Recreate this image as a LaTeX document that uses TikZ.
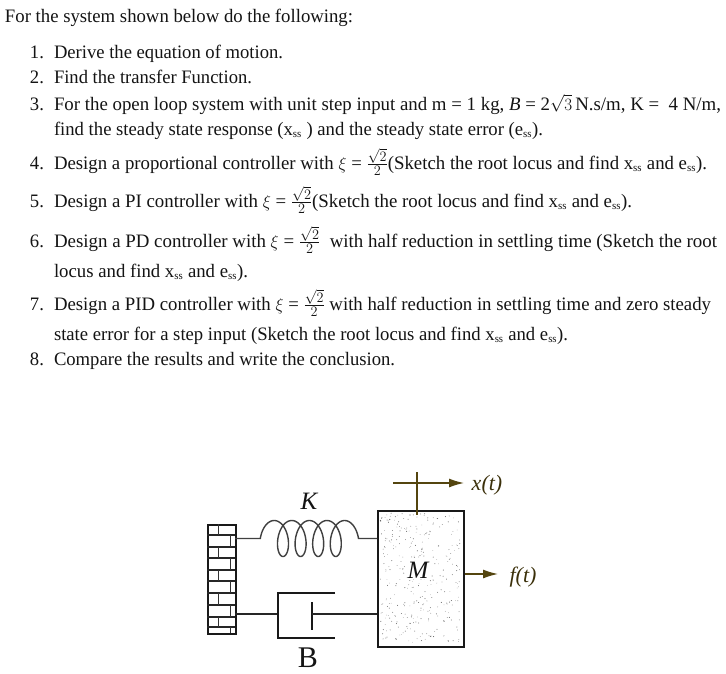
\documentclass[tikz,border=0pt]{standalone}
\usepackage{graphicx}
\usepackage{amsmath}
\usepackage{fontspec}
\setmainfont{Liberation Serif}
\usetikzlibrary{arrows.meta}
\definecolor{ink}{HTML}{141414}
\definecolor{olive}{HTML}{54450F}
\definecolor{coil}{HTML}{404040}
\newcommand{\sbs}[1]{\textsubscript{\fontsize{11}{11}\selectfont #1}}
\newcommand{\xifrac}{$\xi$ = \smash{$\frac{\sqrt{2}}{2}$}}
\newcommand{\putline}[5]{\node[txt] (#1) at (#2,#3) {\resizebox{#4pt}{\height}{\strut #5}};}
\tikzset{
  txt/.style={anchor=base west,inner sep=0pt,outer sep=0pt,text=ink,font=\fontsize{19}{20}\selectfont},
  wire/.style={draw=black!85,line width=1.2pt},
  heavy/.style={draw=black!90,line width=1.6pt},
  movebar/.style={draw=olive,line width=1.3pt},
  movearrow/.style={draw=olive,line width=1.3pt,-{Latex[length=15pt,width=9pt,fill=olive]}},
  lab/.style={inner sep=0pt,outer sep=0pt,anchor=base,text=ink},
}
\begin{document}
\begin{tikzpicture}[x=1pt,y=-1pt]
\useasboundingbox (0,0) rectangle (726,673);
\fill[white] (0,0) rectangle (726,673);
% text
\putline{t0}{5}{22}{348}{For the system shown below do the following:}
\putline{n1}{30}{58}{14}{1.}
\putline{t1}{54}{58}{229}{Derive the equation of motion.}
\putline{n2}{30}{83}{14}{2.}
\putline{t2}{54}{83}{198}{Find the transfer Function.}
\putline{n3}{30}{110}{14}{3.}
\putline{t3}{54}{110}{667}{For the open loop system with unit step input and m = 1 kg, \textit{B} = 2\smash{$\sqrt{3}$}\,N.s/m, K =\ \ 4 N/m,}
\putline{t3b}{54}{135}{489}{find the steady state response (x\sbs{ss} ) and the steady state error (e\sbs{ss}).}
\putline{n4}{30}{169}{14}{4.}
\putline{t4}{54}{169}{653}{Design a proportional controller with \xifrac(Sketch the root locus and find x\sbs{ss} and e\sbs{ss}).}
\putline{n5}{30}{207}{14}{5.}
\putline{t5}{54}{207}{578}{Design a PI controller with \xifrac(Sketch the root locus and find x\sbs{ss} and e\sbs{ss}).}
\putline{n6}{30}{247}{14}{6.}
\putline{t6}{54}{247}{663}{Design a PD controller with \xifrac\ \ with half reduction in settling time (Sketch the root}
\putline{t6b}{54}{277}{194}{locus and find x\sbs{ss} and e\sbs{ss}).}
\putline{n7}{30}{310}{14}{7.}
\putline{t7}{54}{310}{657}{Design a PID controller with \xifrac\ with half reduction in settling time and zero steady}
\putline{t7b}{54}{340}{514}{state error for a step input (Sketch the root locus and find x\sbs{ss} and e\sbs{ss}).}
\putline{n8}{30}{365}{14}{8.}
\putline{t8}{54}{365}{341}{Compare the results and write the conclusion.}
% mass
\node[draw=black!90,line width=1.7pt,fill=white,minimum width=86pt,minimum height=136pt,inner sep=0pt,anchor=north west] (mass) at (377,510) {};
\pgfmathsetseed{42}
\foreach \i in {1,...,340}{
  \pgfmathsetmacro{\dx}{380+rnd*80}
  \pgfmathsetmacro{\dy}{513+rnd*130}
  \pgfmathsetmacro{\dr}{0.25+0.3*rnd}
  \fill[black!60] (\dx,\dy) circle (\dr pt);
}
\node[lab,font=\fontsize{25}{27}\selectfont\itshape,fill=white,inner sep=1pt] (mlab) at (418,578) {M};
% wall
\node[draw=black!90,line width=1.5pt,minimum width=28pt,minimum height=109pt,inner sep=0pt,anchor=north west] (wall) at (207,524) {};
\foreach \yy in {535,547,558,570,581,593,605,617,627}{
  \draw[black!85,line width=1.1pt] (207,\yy) -- (235,\yy);
}
\foreach \ya/\yb in {524/535,547/558,570/581,593/605,617/627}{
  \draw[black!80,line width=1pt] (218,\ya) -- (218,\yb);
}
\foreach \ya/\yb in {535/547,558/570,581/593,605/617,627/633}{
  \draw[black!80,line width=1pt] (230,\ya) -- (230,\yb);
}
% spring
\coordinate (sL) at (235,538.5);
\coordinate (sR) at (377,538.5);
\draw[coil,line width=1.4pt] (sL) -- (260.3,538.5) -- plot[smooth,samples=260,domain=-90:1530,variable=\t] ({274.2+0.04887*\t+9.5*sin(\t)},{538.5-18*cos(\t)}) -- (sR);
\node[lab,font=\fontsize{25}{27}\selectfont\itshape] (klab) at (309,509) {K};
% damper
\coordinate (dL) at (235,614);
\coordinate (dC) at (278,614);
\coordinate (dP) at (312,614);
\coordinate (dR) at (377,614);
\coordinate (cT) at (335,593);
\coordinate (cB) at (335,638);
\coordinate (pT) at (312,602);
\coordinate (pB) at (312,630);
\draw[wire] (dL) -- (dC);
\draw[heavy] (cT) -- (278,593) -- (278,638) -- (cB);
\draw[heavy] (pT) -- (pB);
\draw[wire] (dP) -- (dR);
\node[lab,font=\fontsize{30}{32}\selectfont] (blab) at (308,667) {B};
% x(t)
\coordinate (xTop) at (417,472);
\coordinate (xL) at (393,483);
\coordinate (xR) at (464,483);
\draw[movebar] (xTop) -- (417,515);
\draw[movearrow] (xL) -- (xR);
\node[lab,font=\fontsize{22}{24}\selectfont\itshape,text=olive!70!black] (xlab) at (487,490) {x(t)};
% f(t)
\coordinate (fR) at (498,574);
\draw[movearrow] (mass.east |- fR) -- (fR);
\node[lab,font=\fontsize{22}{24}\selectfont\itshape,text=olive!70!black] (flab) at (523,582) {f(t)};
\end{tikzpicture}
\end{document}
